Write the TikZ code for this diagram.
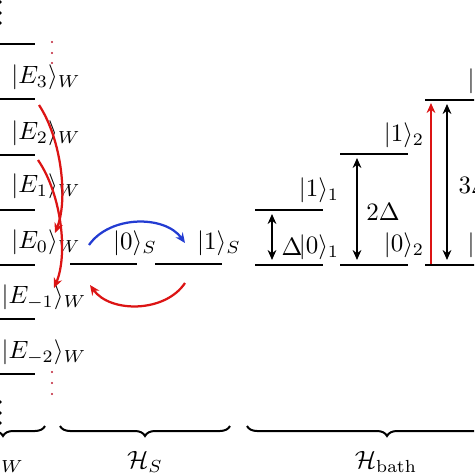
\documentclass[tikz,border=0pt]{standalone}
\usetikzlibrary{arrows.meta,decorations.pathreplacing}
\definecolor{arrred}{RGB}{220,20,20}
\definecolor{arrblue}{RGB}{35,60,210}
\definecolor{dotred}{RGB}{190,30,50}
\begin{document}
\begin{tikzpicture}[x=0.4pt,y=-0.4pt,
  lvl/.style={line width=1.15pt},
  redarr/.style={arrred,line width=0.9pt,-{Stealth[length=4pt,width=3.5pt]}},
  bluearr/.style={arrblue,line width=0.9pt,-{Stealth[length=4pt,width=3.5pt]}},
  dbl/.style={black,line width=0.9pt,{Stealth[length=4pt,width=3.5pt]}-{Stealth[length=4pt,width=3.5pt]}},
  lab/.style={inner sep=0pt,font=\normalsize},
  brc/.style={decorate,decoration={brace,mirror,amplitude=4pt},line width=0.8pt},
  rdot/.style={fill=dotred,draw=none},
  bdot/.style={fill=black,draw=none}]
\useasboundingbox (0,0) rectangle (474,474);
\clip (0,0) rectangle (474,474);
% W ladder
\foreach \yy/\nm in {44/W4,99/W3,155/W2,210/W1,265/W0,319/Wm1,374/Wm2}{
  \coordinate (\nm L) at (-10,\yy);
  \coordinate (\nm R) at (35,\yy);
  \draw[lvl] (\nm L) -- (\nm R);
}
\node[lab] (E3) at (46,77) {$|E_3\rangle_W$};
\node[lab] (E2) at (46,133) {$|E_2\rangle_W$};
\node[lab] (E1) at (46,186) {$|E_1\rangle_W$};
\node[lab] (E0) at (46,242) {$|E_0\rangle_W$};
\node[lab] (Em1) at (44,297) {$|E_{-1}\rangle_W$};
\node[lab] (Em2) at (44,352) {$|E_{-2}\rangle_W$};
% dots
\foreach \yy in {42,53,63,372,383,394}{\fill[rdot] (52,\yy) circle (1.2);}
\foreach \yy in {2,13,23,402,413,423}{\fill[bdot] (0,\yy) circle (1.9);}
% red W arrows
\coordinate (a1s) at (39,105); \coordinate (a1e) at (55,233);
\coordinate (a2s) at (38,160); \coordinate (a2e) at (54,288);
\draw[redarr] (a1s) .. controls (62,140) and (68,200) .. (a1e);
\draw[redarr] (a2s) .. controls (62,195) and (68,255) .. (a2e);
% system levels
\coordinate (S0L) at (70,264); \coordinate (S0R) at (137,264);
\coordinate (S1L) at (155,264); \coordinate (S1R) at (222,264);
\draw[lvl] (S0L) -- (S0R);
\draw[lvl] (S1L) -- (S1R);
\node[lab] (s0) at (135,243) {$|0\rangle_S$};
\node[lab] (s1) at (219,243) {$|1\rangle_S$};
\coordinate (bs) at (89,245); \coordinate (be) at (185,243);
\draw[bluearr] (bs) .. controls (110,215) and (165,215) .. (be);
\coordinate (rs) at (185,283); \coordinate (re) at (90,285);
\draw[redarr] (rs) .. controls (165,313) and (110,313) .. (re);
% bath 1
\coordinate (b10L) at (255,265); \coordinate (b10R) at (323,265);
\coordinate (b11L) at (255,210); \coordinate (b11R) at (323,210);
\draw[lvl] (b10L) -- (b10R);
\draw[lvl] (b11L) -- (b11R);
\coordinate (d1t) at (272,214); \coordinate (d1b) at (272,260);
\draw[dbl] (d1t) -- (d1b);
\node[lab] (D1) at (292,247) {$\Delta$};
\node[lab] (k11) at (319,190) {$|1\rangle_1$};
\node[lab] (k10) at (319,247) {$|0\rangle_1$};
% bath 2
\coordinate (b20L) at (340,265); \coordinate (b20R) at (408,265);
\coordinate (b21L) at (340,154); \coordinate (b21R) at (408,154);
\draw[lvl] (b20L) -- (b20R);
\draw[lvl] (b21L) -- (b21R);
\coordinate (d2t) at (357,158); \coordinate (d2b) at (357,260);
\draw[dbl] (d2t) -- (d2b);
\node[lab] (D2) at (383,212) {$2\Delta$};
\node[lab] (k21) at (404,135) {$|1\rangle_2$};
\node[lab] (k20) at (404,245) {$|0\rangle_2$};
% bath 3
\coordinate (b30L) at (425,265); \coordinate (b30R) at (500,265);
\coordinate (b31L) at (425,100); \coordinate (b31R) at (500,100);
\draw[lvl] (b30L) -- (b30R);
\draw[lvl] (b31L) -- (b31R);
\coordinate (r3b) at (431,264); \coordinate (r3t) at (431,103);
\draw[redarr] (r3b) -- (r3t);
\coordinate (d3t) at (447,104); \coordinate (d3b) at (447,260);
\draw[dbl] (d3t) -- (d3b);
\node[lab,anchor=west] (D3) at (458,185) {$3\Delta$};
\node[lab,anchor=west] (k31) at (467,81) {$|1\rangle_3$};
\node[lab,anchor=west] (k30) at (467,245) {$|0\rangle_3$};
% braces
\coordinate (bwL) at (-39,426); \coordinate (bwR) at (45,426);
\coordinate (bsL) at (60,426); \coordinate (bsR) at (230,426);
\coordinate (bbL) at (247,426); \coordinate (bbR) at (527,426);
\draw[brc] (bwL) -- (bwR);
\draw[brc] (bsL) -- (bsR);
\draw[brc] (bbL) -- (bbR);
\node[lab] (HW) at (2,462) {$\mathcal{H}_W$};
\node[lab] (HS) at (145,462) {$\mathcal{H}_S$};
\node[lab] (HB) at (386,462) {$\mathcal{H}_{\mathrm{bath}}$};
\end{tikzpicture}
\end{document}
